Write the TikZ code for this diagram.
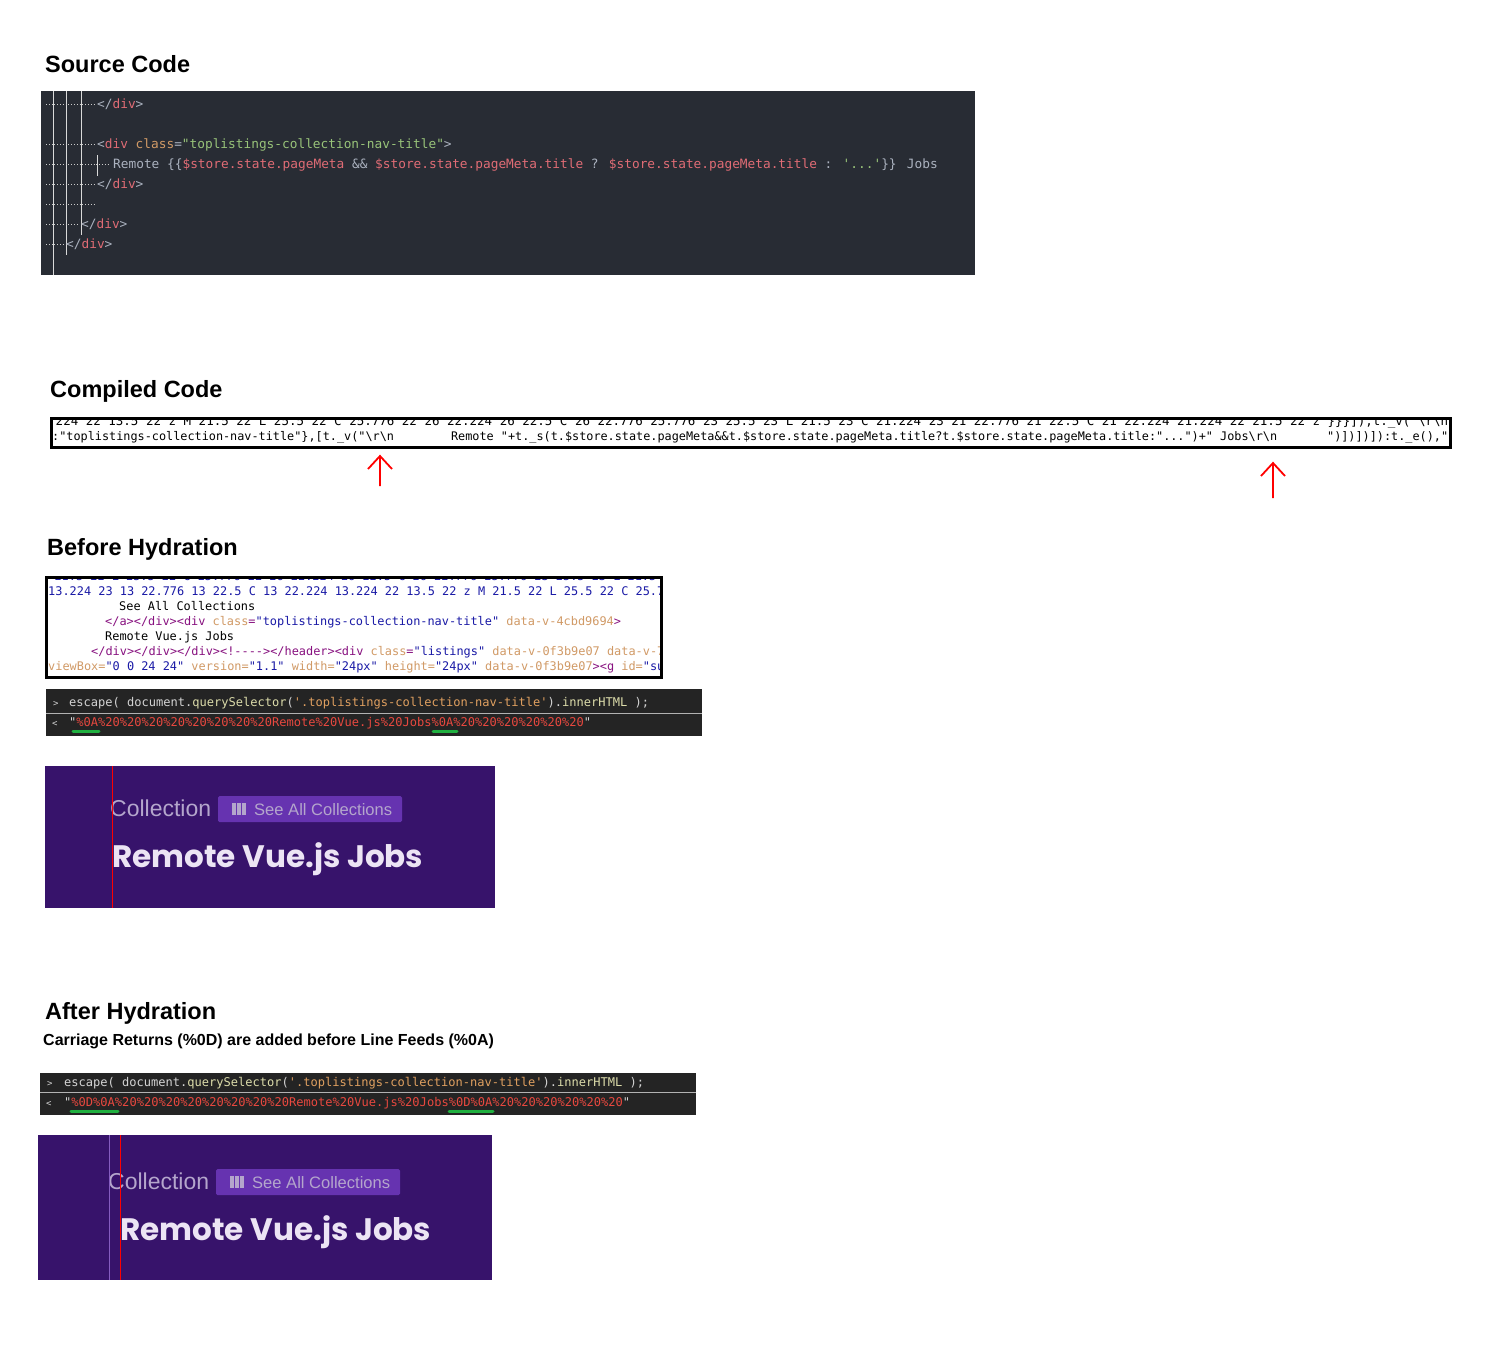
\documentclass[tikz,border=0pt]{standalone}
\usepackage{fontspec}
\usepackage{graphicx}
\setmainfont{Liberation Sans}
\newfontfamily\cf{DejaVu Sans Mono}
\newfontfamily\banfont{Poppins}
\definecolor{edbg}{HTML}{282C34}
\definecolor{tagc}{HTML}{E06C75}
\definecolor{attc}{HTML}{D19A66}
\definecolor{strc}{HTML}{98C379}
\definecolor{plc}{HTML}{ABB2BF}
\definecolor{conbg}{HTML}{242424}
\definecolor{cont}{HTML}{D4D4D4}
\definecolor{cony}{HTML}{DCDCAA}
\definecolor{conr}{HTML}{E8483F}
\definecolor{cons}{HTML}{E0A060}
\definecolor{banbg}{HTML}{37136B}
\definecolor{btnc}{HTML}{6633B0}
\definecolor{bant}{HTML}{ECE4F4}
\definecolor{colt}{HTML}{B4A6CC}
\definecolor{blu}{HTML}{1A1AA6}
\definecolor{brn}{HTML}{881280}
\definecolor{ggreen}{HTML}{20B040}
\newcommand{\fw}[2]{\resizebox{#1}{!}{#2}}
\tikzset{x=1pt,y=-1pt,
 head/.style={anchor=west,font=\fontsize{23.5}{25}\selectfont\bfseries,inner sep=0},
 cl/.style={anchor=base west,inner sep=0,font=\cf\fontsize{12.8}{13}\selectfont},
 guide/.style={gray!40,dotted,line width=0.8pt},
 greenu/.style={ggreen,line width=3pt,line cap=round}}
\begin{document}
\begin{tikzpicture}
\useasboundingbox[fill=white] (0,0) rectangle (1508,1349);
% ---------- Source
\node[head] (h1) at (45,64) {Source Code};
\fill[edbg] (41,91) rectangle (975,275);
\foreach \xx/\ya/\yb in {53/91/275,66/91/255,81/91/235}{\draw[gray!30] (\xx,\ya) -- (\xx,\yb);}
\draw[gray!30] (97,155) -- (97,176);
\foreach \yy/\xb in {104/95,144/95,164/110,184/95,204/95,224/79,244/64}{\draw[guide] (46,\yy) -- (\xb,\yy);}
\node[cl] (s1) at (97,108) {\color{plc}</\textcolor{tagc}{div}>};
\node[cl] (s2) at (97,148) {\color{plc}<\textcolor{tagc}{div} \textcolor{attc}{class}=\textcolor{strc}{"toplistings-collection-nav-title"}>};
\node[cl] (s3) at (113,168) {\color{plc}Remote \{\{\textcolor{tagc}{\$store.state.pageMeta} \&\& \textcolor{tagc}{\$store.state.pageMeta.title} ? \textcolor{tagc}{\$store.state.pageMeta.title} : \textcolor{strc}{'...'}\}\} Jobs};
\node[cl] (s4) at (97,188) {\color{plc}</\textcolor{tagc}{div}>};
\node[cl] (s5) at (81,228) {\color{plc}</\textcolor{tagc}{div}>};
\node[cl] (s6) at (66,248) {\color{plc}</\textcolor{tagc}{div}>};
% ---------- Compiled
\node[head] (h2) at (50,391) {Compiled Code};
\begin{scope}
\clip (52,419) rectangle (1449,446);
\node[anchor=base west,inner sep=0] (c1) at (48,425) {\fw{1400pt}{\cf\fontsize{12}{12}\selectfont .224 22 13.5 22 z M 21.5 22 L 25.5 22 C 25.776 22 26 22.224 26 22.5 C 26 22.776 25.776 23 25.5 23 L 21.5 23 C 21.224 23 21 22.776 21 22.5 C 21 22.224 21.224 22 21.5 22 z \}\}\}{]}),t.\_v("\textbackslash r\textbackslash n}};
\node[anchor=base west,inner sep=0] (c2) at (52,440) {\fw{1396pt}{\cf\fontsize{12}{12}\selectfont :"toplistings-collection-nav-title"\},[t.\_v("\textbackslash r\textbackslash n\ \ \ \ \ \ \ \ Remote "+t.\_s(t.\$store.state.pageMeta\&\&t.\$store.state.pageMeta.title?t.\$store.state.pageMeta.title:"...")+" Jobs\textbackslash r\textbackslash n\ \ \ \ \ \ \ "){]}){]}){]}):t.\_e(),"}};
\end{scope}
\draw[line width=3pt] (51,418) rectangle (1450,447);
\coordinate (a1b) at (380,486); \coordinate (a1t) at (380,456);
\coordinate (a2b) at (1273,498); \coordinate (a2t) at (1273,463);
\draw[red,line width=1.8pt] (a1b) -- (a1t) (368,469) -- (a1t) -- (392,469);
\draw[red,line width=1.8pt] (a2b) -- (a2t) (1261,476) -- (a2t) -- (1285,476);
% ---------- Before
\node[head] (h3) at (47,549) {Before Hydration};
\begin{scope}
\clip (47,578) rectangle (660,676);
\tikzset{bl/.style={anchor=base west,inner sep=0,font=\cf\fontsize{11.9}{12}\selectfont}}
\node[bl,blu] at (40,580) {M 21.5 22 L 25.5 22 C 25.776 22 26 22.224 26 22.5 C 26 22.776 25.776 23 25.5 23 L 21.5 23};
\node[bl,blu] (b1) at (48,595) {13.224 23 13 22.776 13 22.5 C 13 22.224 13.224 22 13.5 22 z M 21.5 22 L 25.5 22 C 25.7};
\node[bl] (b2) at (119,610) {See All Collections};
\node[bl] (b3) at (105,625) {\color{brn}</a></div><div \textcolor{attc}{class}=\textcolor{blu}{"toplistings-collection-nav-title"} \textcolor{attc}{data-v-4cbd9694}>};
\node[bl] (b4) at (105,640) {Remote Vue.js Jobs};
\node[bl] (b5) at (91,655) {\color{brn}</div></div></div><!----></header><div \textcolor{attc}{class}=\textcolor{blu}{"listings"} \textcolor{attc}{data-v-0f3b9e07 data-v-7}};
\node[bl] (b6) at (48,670) {\color{attc}viewBox=\textcolor{blu}{"0 0 24 24"} version=\textcolor{blu}{"1.1"} width=\textcolor{blu}{"24px"} height=\textcolor{blu}{"24px"} data-v-0f3b9e07\textcolor{brn}{><g} id=\textcolor{blu}{"su}};
\end{scope}
\draw[line width=3pt] (46,577) rectangle (661,677);
% console 1
\fill[conbg] (46,689) rectangle (702,736);
\draw[gray!60] (46,713) -- (702,713);
\node[anchor=base west,inner sep=0,cont] (k0) at (53,706) {\cf\fontsize{9}{9}\selectfont >};
\node[anchor=base west,inner sep=0] (k1) at (69,706) {\fw{580pt}{\cf\fontsize{12}{12}\selectfont\color{cont}escape( document.\textcolor{cony}{querySelector}(\textcolor{cons}{'.toplistings-collection-nav-title'}).\textcolor{cony}{innerHTML} );}};
\node[anchor=base west,inner sep=0,cont] (k2) at (52,726) {\cf\fontsize{9}{9}\selectfont <};
\node[anchor=base west,inner sep=0] (k3) at (69,726) {\fw{522pt}{\cf\fontsize{12}{12}\selectfont\color{cont}"\textcolor{conr}{\%0A\%20\%20\%20\%20\%20\%20\%20\%20Remote\%20Vue.js\%20Jobs\%0A\%20\%20\%20\%20\%20\%20}"}};
\draw[greenu] (73,731) -- (99,731);
\draw[greenu] (433,731) -- (457,731);
% banner 1
\fill[banbg] (45,766) rectangle (495,908);
\node[anchor=base west,inner sep=0,colt] (t1) at (110,816) {\fw{101pt}{\fontsize{22}{22}\selectfont Collection}};
\fill[btnc,rounded corners=1.5pt] (218,796) rectangle (402,822);
\node[anchor=base west,inner sep=0,colt] (bt1) at (254,815) {\fw{138pt}{\fontsize{16}{16}\selectfont See All Collections}};
\foreach \xx in {232,237,242}{\fill[colt] (\xx,803) rectangle ++(3.5,12);}
\node[anchor=base west,inner sep=0,bant] (r1) at (112,867) {\fw{311pt}{\banfont\bfseries\fontsize{30}{30}\selectfont Remote Vue.js Jobs}};
\draw[red] (112,766) -- (112,908);
% ---------- After
\node[head] (h4) at (45,1013) {After Hydration};
\node[anchor=west,inner sep=0,font=\fontsize{16}{16}\selectfont\bfseries] (sub) at (43,1041) {Carriage Returns (\%0D) are added before Line Feeds (\%0A)};
\fill[conbg] (40,1073) rectangle (696,1115);
\draw[gray!60] (40,1092) -- (696,1092);
\node[anchor=base west,inner sep=0,cont] at (47,1086) {\cf\fontsize{9}{9}\selectfont >};
\node[anchor=base west,inner sep=0] (k4) at (64,1086) {\fw{580pt}{\cf\fontsize{12}{12}\selectfont\color{cont}escape( document.\textcolor{cony}{querySelector}(\textcolor{cons}{'.toplistings-collection-nav-title'}).\textcolor{cony}{innerHTML} );}};
\node[anchor=base west,inner sep=0,cont] at (46,1106) {\cf\fontsize{9}{9}\selectfont <};
\node[anchor=base west,inner sep=0] (k5) at (64,1106) {\fw{566pt}{\cf\fontsize{12}{12}\selectfont\color{cont}"\textcolor{conr}{\%0D\%0A\%20\%20\%20\%20\%20\%20\%20\%20Remote\%20Vue.js\%20Jobs\%0D\%0A\%20\%20\%20\%20\%20\%20}"}};
\draw[greenu] (71,1111) -- (118,1111);
\draw[greenu] (449,1111) -- (493,1111);
% banner 2
\fill[banbg] (38,1135) rectangle (492,1280);
\node[anchor=base west,inner sep=0,colt] (t2) at (108,1189) {\fw{101pt}{\fontsize{22}{22}\selectfont Collection}};
\fill[btnc,rounded corners=1.5pt] (216,1169) rectangle (400,1195);
\node[anchor=base west,inner sep=0,colt] (bt2) at (252,1188) {\fw{138pt}{\fontsize{16}{16}\selectfont See All Collections}};
\foreach \xx in {230,235,240}{\fill[colt] (\xx,1176) rectangle ++(3.5,12);}
\node[anchor=base west,inner sep=0,bant] (r2) at (120,1240) {\fw{311pt}{\banfont\bfseries\fontsize{30}{30}\selectfont Remote Vue.js Jobs}};
\draw[btnc!80] (109,1135) -- (109,1280);
\draw[red] (120,1135) -- (120,1280);
\end{tikzpicture}
\end{document}
